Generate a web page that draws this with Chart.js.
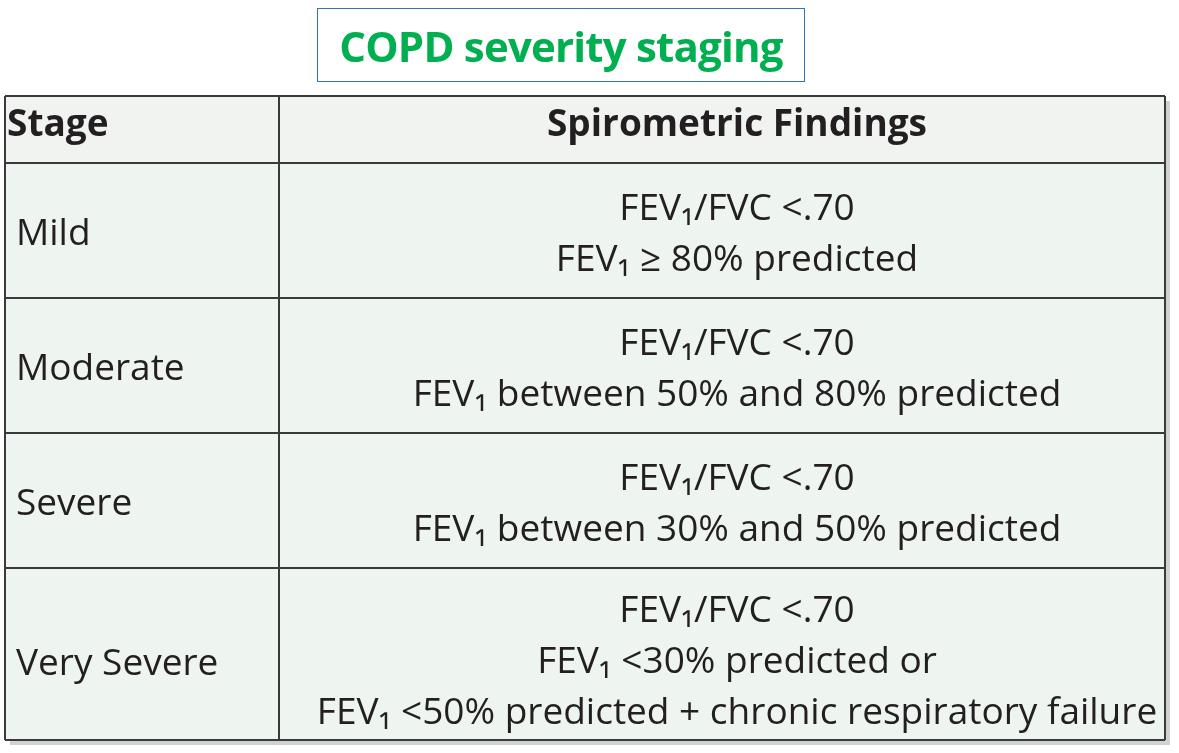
<!DOCTYPE html>
<html><head><meta charset="utf-8">
<script src="https://cdn.jsdelivr.net/npm/chart.js@4"></script>
<style>
html,body{margin:0;padding:0;background:#fff;}
#wrap{position:relative;width:1179px;height:753px;}
#title{position:absolute;left:317px;top:8px;width:488px;height:74px;border:1.5px solid #2e75b6;box-sizing:border-box;
display:flex;align-items:center;justify-content:center;font-family:"Open Sans",sans-serif;font-weight:700;font-size:42px;color:#00b050;letter-spacing:-0.8px;}
</style></head><body>
<div id="wrap"><canvas id="c"></canvas><div id="title">COPD severity staging</div></div>
<script>
const headers = ["Stage", "Spirometric Findings"];
const stages = ["Mild", "Moderate", "Severe", "Very Severe"];
const findings = [
  ["FEV₁/FVC <.70", "FEV₁ ≥ 80% predicted"],
  ["FEV₁/FVC <.70", "FEV₁ between 50% and 80% predicted"],
  ["FEV₁/FVC <.70", "FEV₁ between 30% and 50% predicted"],
  ["FEV₁/FVC <.70", "FEV₁ <30% predicted or", "FEV₁ <50% predicted + chronic respiratory failure"]
];
const colWidths = [274, 886];
const rowHeights = [67, 135, 135, 135, 172];

const colEdges = [0]; colWidths.forEach(w => colEdges.push(colEdges[colEdges.length-1]+w));
const rowEdges = [0]; rowHeights.forEach(h => rowEdges.push(rowEdges[rowEdges.length-1]+h));

const tablePlugin = {
  id: 'table',
  afterDraw(chart) {
    const ctx = chart.ctx, xs = chart.scales.x, ys = chart.scales.y;
    const X = v => xs.getPixelForValue(v), Y = v => ys.getPixelForValue(v);
    const L = X(0), R = X(colEdges[2]), T = Y(0), B = Y(rowEdges[rowEdges.length-1]);
    ctx.save();
    ctx.fillStyle = 'rgba(0,0,0,0.18)';
    ctx.fillRect(L+5, T+5, R-L, B-T);
    ctx.fillStyle = '#f1f3f1'; ctx.fillRect(L, T, R-L, Y(rowEdges[1])-T);
    ctx.fillStyle = '#eef5f1'; ctx.fillRect(L, Y(rowEdges[1]), R-L, B-Y(rowEdges[1]));
    ctx.strokeStyle = '#3a3a3a'; ctx.lineWidth = 2;
    rowEdges.forEach(r => { ctx.beginPath(); ctx.moveTo(L, Y(r)); ctx.lineTo(R, Y(r)); ctx.stroke(); });
    colEdges.forEach(c => { ctx.beginPath(); ctx.moveTo(X(c), T); ctx.lineTo(X(c), B); ctx.stroke(); });
    ctx.fillStyle = '#231f20'; ctx.textBaseline = 'middle';
    ctx.font = '700 37px "Open Sans", sans-serif';
    const hy = (T + Y(rowEdges[1]))/2 - 4;
    ctx.textAlign = 'left'; ctx.fillText(headers[0], L+2, hy);
    ctx.textAlign = 'center'; ctx.fillText(headers[1], (X(colEdges[1])+R)/2 + 15, hy);
    ctx.font = '37px "Open Sans", sans-serif';
    const lh = 51;
    stages.forEach((s, i) => {
      const cy = (Y(rowEdges[i+1]) + Y(rowEdges[i+2]))/2;
      ctx.textAlign = 'left'; ctx.fillText(s, L+11, cy + (i === 3 ? 10 : 4));
      const lines = findings[i];
      const cx = (X(colEdges[1]) + R)/2 + 15;
      ctx.textAlign = 'center';
      const off = i === 3 ? 8 : 4;
      lines.forEach((t, k) => ctx.fillText(t, cx, cy + (k - (lines.length-1)/2)*lh + off));
    });
    ctx.restore();
  }
};

new Chart(document.getElementById('c'), {
  type: 'scatter',
  data: { datasets: [{ data: [] }] },
  options: {
    responsive: true, maintainAspectRatio: false, animation: false,
    layout: { padding: { left: 5, top: 96, right: 14, bottom: 13 } },
    plugins: { legend: { display: false }, tooltip: { enabled: false } },
    scales: {
      x: { type: 'linear', min: 0, max: colEdges[2], display: false },
      y: { type: 'linear', min: 0, max: rowEdges[rowEdges.length-1], reverse: true, display: false }
    }
  },
  plugins: [tablePlugin]
});
</script>
</body></html>
